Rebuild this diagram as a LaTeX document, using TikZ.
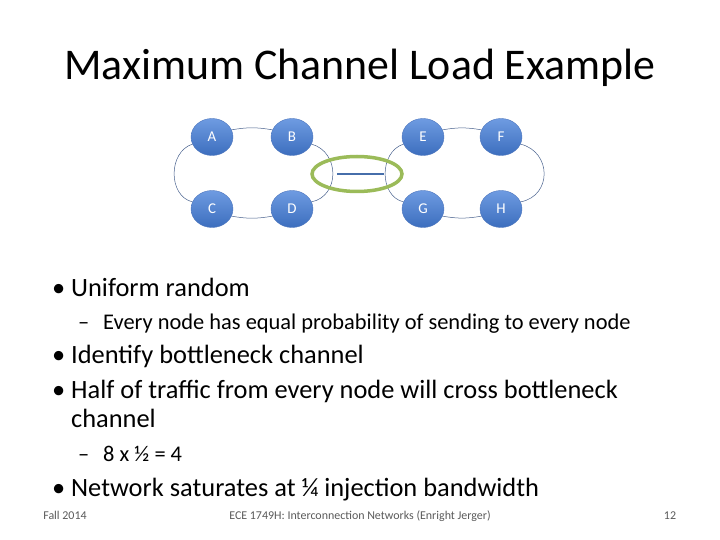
\documentclass[tikz,border=0pt]{standalone}
\usepackage{fontspec}
\setmainfont{Carlito}
\usetikzlibrary{shapes.geometric}
\begin{document}
\begin{tikzpicture}[x=1bp,y=-1bp,
  nd/.style={ellipse,minimum width=42bp,minimum height=37bp,inner sep=0pt,top color={rgb,255:red,110;green,155;blue,225},bottom color={rgb,255:red,60;green,110;blue,190},draw={rgb,255:red,80;green,120;blue,190},text=white,font=\fontsize{15}{18}\selectfont},
  ln/.style={draw={rgb,255:red,70;green,95;blue,140},line width=0.5bp},
  bul/.style={anchor=base west,inner sep=0pt,font=\fontsize{26.5}{30}\selectfont},
  sub/.style={anchor=base west,inner sep=0pt,font=\fontsize{22.5}{26}\selectfont},
  foot/.style={anchor=base,inner sep=0pt,font=\fontsize{12}{14}\selectfont,text={rgb,255:red,90;green,90;blue,90}}]
\useasboundingbox (0,0) rectangle (720,540);
\node[inner sep=0pt,font=\fontsize{44}{50}\selectfont] (title) at (360,68) {Maximum Channel Load Example};
\node[nd] (A) at (212,137) {A};
\node[nd] (B) at (292,137) {B};
\node[nd] (E) at (423,137) {E};
\node[nd] (F) at (501,137) {F};
\node[nd] (C) at (212,209) {C};
\node[nd] (D) at (292,209) {D};
\node[nd] (G) at (423,209) {G};
\node[nd] (H) at (501,209) {H};
\coordinate (bl) at (337,174);
\coordinate (br) at (384,174);
\draw[ln] (A.20) to[bend left=10] (B.160);
\draw[ln] (C.-20) to[bend right=10] (D.200);
\draw[ln] (E.20) to[bend left=10] (F.160);
\draw[ln] (G.-20) to[bend right=10] (H.200);
\draw[ln] (A.200) .. controls (168,152) and (168,196) .. (C.160);
\draw[ln] (B.-20) .. controls (340,152) and (340,196) .. (D.20);
\draw[ln] (E.200) .. controls (379,152) and (379,196) .. (G.160);
\draw[ln] (F.-20) .. controls (552,152) and (552,196) .. (H.20);
\draw[draw={rgb,255:red,70;green,110;blue,170},line width=2.2bp] (bl) -- (br);
\node[ellipse,draw={rgb,255:red,155;green,187;blue,89},line width=3.5bp,minimum width=90bp,minimum height=35bp] (ring) at (357,174) {};
\node[bul] (b1) at (52,296) {\makebox[19bp][l]{\textbullet}Uniform random};
\node[sub] (s1) at (78,329) {\makebox[25bp][l]{–}Every node has equal probability of sending to every node};
\node[bul] (b2) at (52,363) {\makebox[19bp][l]{\textbullet}Identify bottleneck channel};
\node[bul] (b3) at (52,398) {\makebox[19bp][l]{\textbullet}Half of traffic from every node will cross bottleneck};
\node[bul] (b3b) at (71,427) {channel};
\node[sub] (s2) at (78,461) {\makebox[25bp][l]{–}8 x ½ = 4};
\node[bul] (b4) at (52,496) {\makebox[19bp][l]{\textbullet}Network saturates at ¼ injection bandwidth};
\node[foot] (f1) at (65,519) {Fall 2014};
\node[foot] (f2) at (360,519) {ECE 1749H: Interconnection Networks (Enright Jerger)};
\node[foot] (f3) at (670,519) {12};
\end{tikzpicture}
\end{document}
